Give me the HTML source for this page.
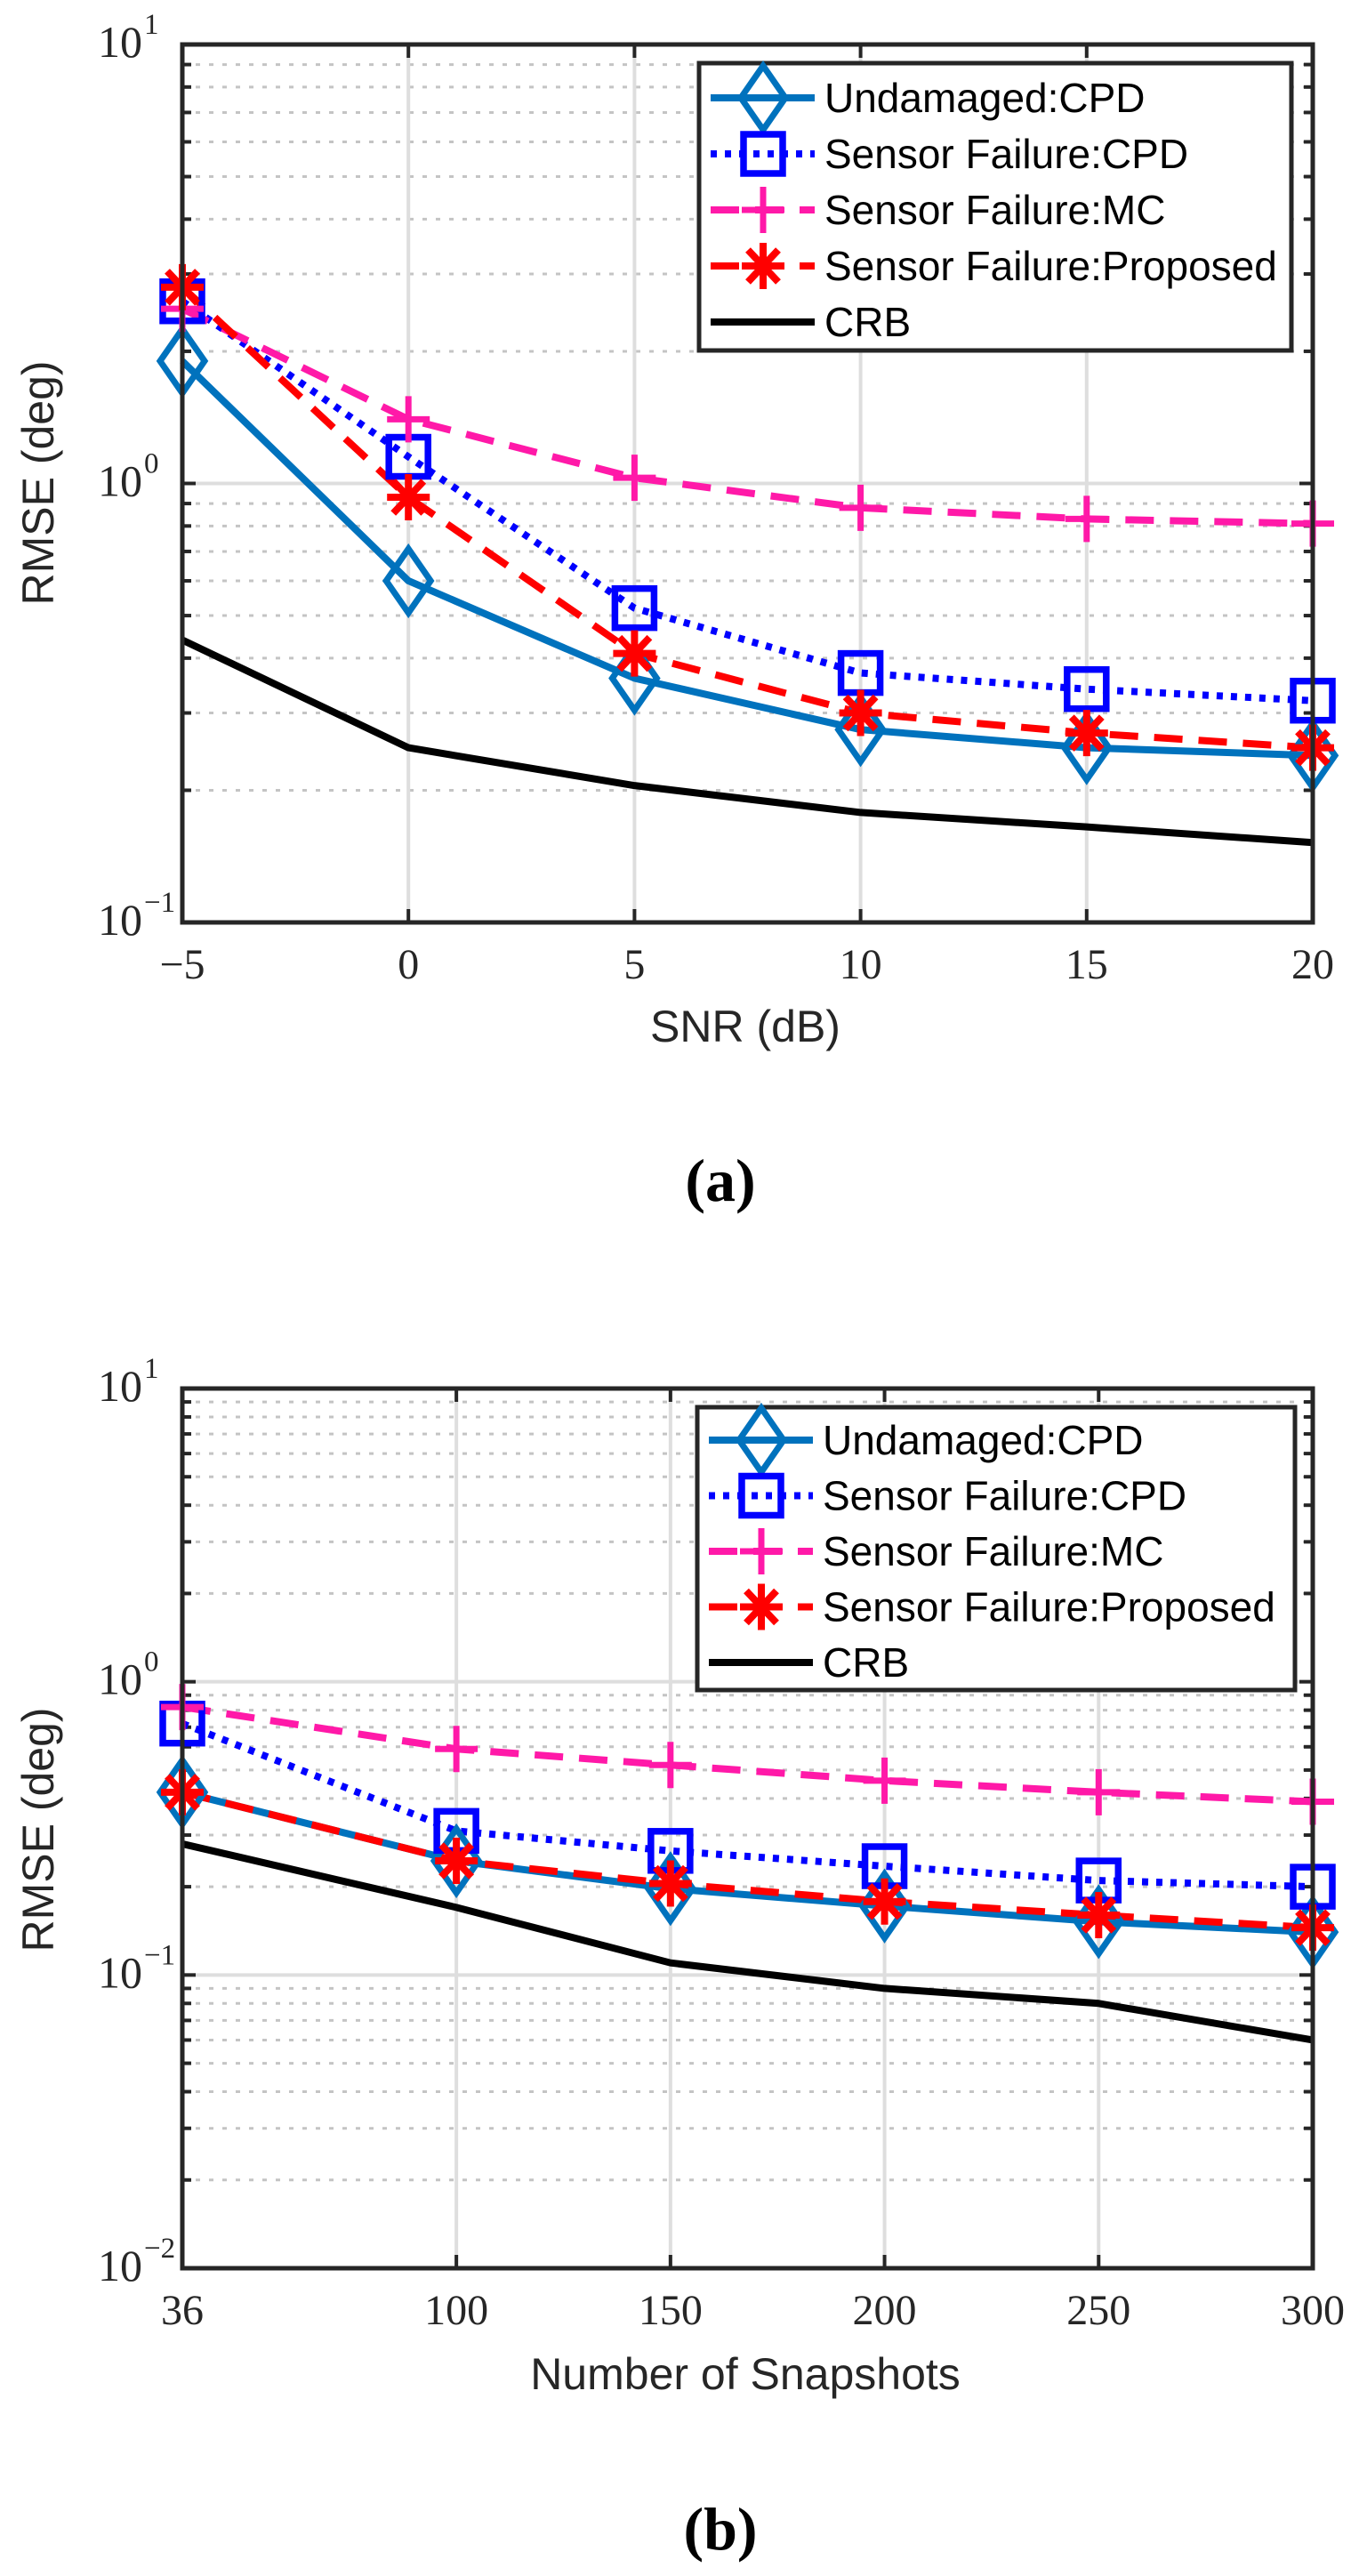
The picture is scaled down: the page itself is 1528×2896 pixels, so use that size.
<!DOCTYPE html>
<html><head><meta charset="utf-8"><style>
html,body{margin:0;padding:0;background:#fff;}
svg{display:block;}
</style></head><body>
<svg id="s" width="1528" height="2896" xmlns="http://www.w3.org/2000/svg">
<rect width="1528" height="2896" fill="#fff"/>
<g id="g"></g>
<text x="47" y="543" transform="rotate(-90 47 543)" text-anchor="middle" dominant-baseline="middle" font-family="Liberation Sans, sans-serif" font-size="50" fill="#262626">RMSE (deg)</text>
<text x="838" y="1158" text-anchor="middle" dominant-baseline="middle" font-family="Liberation Sans, sans-serif" font-size="50" fill="#262626">SNR (dB)</text>
<text x="810" y="1350" text-anchor="middle" font-family="Liberation Serif, serif" font-weight="bold" font-size="68" fill="#000">(a)</text>
<text x="47" y="2057" transform="rotate(-90 47 2057)" text-anchor="middle" dominant-baseline="middle" font-family="Liberation Sans, sans-serif" font-size="50" fill="#262626">RMSE (deg)</text>
<text x="838" y="2673" text-anchor="middle" dominant-baseline="middle" font-family="Liberation Sans, sans-serif" font-size="50" fill="#262626">Number of Snapshots</text>
<text x="810" y="2866" text-anchor="middle" font-family="Liberation Serif, serif" font-weight="bold" font-size="68" fill="#000">(b)</text>
</svg>
<script>
var NS="http://www.w3.org/2000/svg",G=document.getElementById("g");
function el(t,a,p){var e=document.createElementNS(NS,t);for(var k in a)e.setAttribute(k,a[k]);(p||G).appendChild(e);return e;}
function txt(x,y,s,a){var e=el("text",Object.assign({x:x,y:y},a));e.textContent=s;return e;}
var S=[
 {c:"#0072BD",d:"",m:"d"},
 {c:"#0000FF",d:"7 9",m:"s"},
 {c:"#FF19A8",d:"32 18",m:"p"},
 {c:"#FF0000",d:"32 18",m:"a"},
 {c:"#000000",d:"",m:""}];
var names=["Undamaged:CPD","Sensor Failure:CPD","Sensor Failure:MC","Sensor Failure:Proposed","CRB"];
function marker(m,x,y,c){
 if(m=="d")el("polygon",{points:(x)+","+(y-36)+" "+(x+25)+","+y+" "+x+","+(y+36)+" "+(x-25)+","+y,fill:"none",stroke:c,"stroke-width":7});
 if(m=="s")el("rect",{x:x-22,y:y-22,width:44,height:44,fill:"none",stroke:c,"stroke-width":7.5});
 if(m=="p"){el("path",{d:"M"+(x-24)+" "+y+"H"+(x+24)+"M"+x+" "+(y-26)+"V"+(y+26),stroke:c,"stroke-width":7});}
 if(m=="a"){var d="M"+(x-24)+" "+y+"H"+(x+24)+"M"+x+" "+(y-26)+"V"+(y+26)+"M"+(x-17)+" "+(y-18)+"L"+(x+17)+" "+(y+18)+"M"+(x-17)+" "+(y+18)+"L"+(x+17)+" "+(y-18);el("path",{d:d,stroke:c,"stroke-width":8});}
}
function plot(P){
 var L=205,R=1476,T=P.T,B=P.B,nd=P.dec,dh=(B-T)/nd;
 function Y(v){return T+(P.top-Math.log10(v))*dh;}
 for(var e=P.top-nd;e<P.top;e++)for(var k=2;k<=9;k++){var y=Y(k*Math.pow(10,e));
  el("line",{x1:L,x2:R,y1:y,y2:y,stroke:"#c4c4c4","stroke-width":3,"stroke-dasharray":"5 10"});
  el("line",{x1:L,x2:L+10,y1:y,y2:y,stroke:"#262626","stroke-width":4});
  el("line",{x1:R-10,x2:R,y1:y,y2:y,stroke:"#262626","stroke-width":4});}
 for(var e=1;e<nd;e++){var y=T+e*dh;el("line",{x1:L,x2:R,y1:y,y2:y,stroke:"#dedede","stroke-width":4});
  el("line",{x1:L,x2:L+15,y1:y,y2:y,stroke:"#262626","stroke-width":4});el("line",{x1:R-15,x2:R,y1:y,y2:y,stroke:"#262626","stroke-width":4});}
 P.xt.forEach(function(t){var x=P.X(t);
  if(x>L+2&&x<R-2){el("line",{x1:x,x2:x,y1:T,y2:B,stroke:"#dedede","stroke-width":4});
  el("line",{x1:x,x2:x,y1:B-15,y2:B,stroke:"#262626","stroke-width":4});el("line",{x1:x,x2:x,y1:T,y2:T+15,stroke:"#262626","stroke-width":4});}
  txt(x,P.xl,(t<0?"\u2212"+(-t):""+t),{"text-anchor":"middle","font-family":"Liberation Serif, serif","font-size":48,fill:"#262626"});});
 for(var e=0;e<=nd;e++){var y=T+e*dh,ex=P.top-e;
  txt(160,y+14,"10",{"text-anchor":"end","font-family":"Liberation Serif, serif","font-size":50,fill:"#262626"});
  txt(162,y-12,(ex<0?"\u2212"+(-ex):""+ex),{"text-anchor":"start","font-family":"Liberation Serif, serif","font-size":33,fill:"#262626"});}
 P.d.forEach(function(ds,i){var s=S[i];var pts=ds.map(function(v,j){return P.X(P.xs[j])+","+Y(v);}).join(" ");
  var a={points:pts,fill:"none",stroke:s.c,"stroke-width":8,"stroke-linejoin":"round"};if(s.d)a["stroke-dasharray"]=s.d;
  el("polyline",a);});
 P.d.forEach(function(ds,i){var s=S[i];if(s.m)ds.forEach(function(v,j){marker(s.m,P.X(P.xs[j]),Y(v),s.c);});});
 el("rect",{x:L,y:T,width:R-L,height:B-T,fill:"none",stroke:"#262626","stroke-width":5});
 var lg=P.lg;el("rect",{x:lg.x,y:lg.y,width:lg.w,height:lg.h,fill:"#fff",stroke:"#262626","stroke-width":5});
 for(var i=0;i<5;i++){var y=lg.r0+i*lg.dr,s=S[i];
  var a={x1:lg.x+13,x2:lg.x+130,y1:y,y2:y,stroke:s.c,"stroke-width":8};if(s.d)a["stroke-dasharray"]=s.d;el("line",a);
  if(s.m)marker(s.m,lg.x+72,y,s.c);
  txt(lg.x+141,y+16,names[i],{"font-family":"Liberation Sans, sans-serif","font-size":46,fill:"#000"});}
}
plot({T:50,B:1037,dec:2,top:1,xl:1100,xt:[-5,0,5,10,15,20],xs:[-5,0,5,10,15,20],
 X:function(v){return 205+(v+5)/25*1271;},
 d:[[1.9,0.6,0.36,0.275,0.25,0.24],[2.6,1.15,0.52,0.37,0.34,0.32],[2.5,1.4,1.03,0.88,0.83,0.81],[2.8,0.93,0.41,0.30,0.27,0.25],[0.44,0.25,0.205,0.178,0.165,0.152]],
 lg:{x:786,y:71,w:666,h:323,r0:110,dr:63}});
plot({T:1561,B:2550,dec:3,top:1,xl:2613,xt:[36,100,150,200,250,300],xs:[36,100,150,200,250,300],
 X:function(v){return 205+(v-36)/264*1271;},
 d:[[0.42,0.245,0.197,0.172,0.152,0.14],[0.72,0.31,0.265,0.235,0.21,0.20],[0.82,0.59,0.52,0.46,0.42,0.39],[0.42,0.245,0.205,0.178,0.16,0.145],[0.28,0.17,0.11,0.09,0.08,0.06]],
 lg:{x:784,y:1582,w:672,h:318,r0:1619,dr:62.5}});
</script>
</body></html>
